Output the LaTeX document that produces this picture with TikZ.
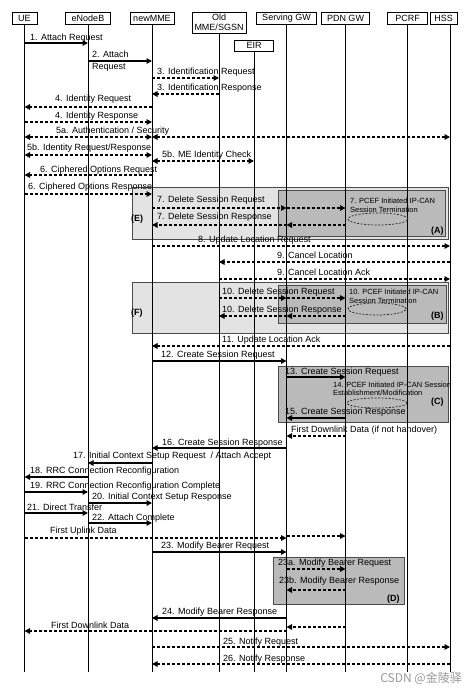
\documentclass[tikz,border=0pt]{standalone}
\usepackage{fontspec}
\setmainfont{Liberation Sans}
\newfontfamily\cjk{Noto Sans CJK SC}
\usetikzlibrary{arrows.meta}

\tikzset{
  hdr/.style={draw,line width=0.7pt,minimum height=12pt,inner sep=1pt,font=\fontsize{9}{10}\selectfont},
  lbl/.style={anchor=base west,inner sep=0pt,font=\fontsize{9}{10}\selectfont},
  small/.style={anchor=base west,inner sep=0pt,font=\fontsize{7.5}{8.5}\selectfont},
  tag/.style={anchor=base west,inner sep=0pt,font=\bfseries\fontsize{9}{10}\selectfont},
  life/.style={line width=0.75pt},
  msg/.style={line width=1.3pt,-{Triangle[length=5.5pt,width=5.5pt]}},
  dmsg/.style={msg,dash pattern=on 3pt off 2pt},
  dboth/.style={dmsg,{Triangle[length=5.5pt,width=5.5pt]}-{Triangle[length=5.5pt,width=5.5pt]}},
  light/.style={fill=black!11,draw=black!70,line width=0.8pt},
  dark/.style={fill=black!27,draw=black!70,line width=0.8pt},
  pcefcloud/.style={dash pattern=on 2pt off 1.5pt,line width=0.7pt,draw=black!85}
}

\begin{document}
\begin{tikzpicture}[x=1pt,y=-1pt]
\fill[white] (0,0) rectangle (474,690);
\useasboundingbox (0,0) rectangle (474,690);

% shaded areas
\draw[light] (132,187) rectangle (448,239);
\draw[dark] (278,190) rectangle (445,236);
\draw[light] (132,282) rectangle (448,333);
\draw[dark] (278,285) rectangle (446,323);
\draw[dark] (278,366) rectangle (448,422);
\draw[dark] (273,557) rectangle (404,604);

% heads
\node[hdr,minimum width=25pt] (ue) at (24.5,18) {UE};
\node[hdr,minimum width=45pt] (enb) at (88,18) {eNodeB};
\node[hdr,minimum width=44pt] (mme) at (152,18) {newMME};
\node[hdr,minimum width=54pt,minimum height=21pt,align=center] (old) at (219,22.5) {Old\\MME/SGSN};
\node[hdr,minimum width=39pt,minimum height=11pt] (eir) at (254,45.5) {EIR};
\node[hdr,minimum width=60pt] (sgw) at (286.5,18) {Serving GW};
\node[hdr,minimum width=48pt] (pgw) at (345.5,18) {PDN GW};
\node[hdr,minimum width=40pt] (pcrf) at (407.5,18) {PCRF};
\node[hdr,minimum width=27pt] (hss) at (443.5,18) {HSS};
\coordinate (hssl) at (450,24);

% life lines
\draw[life] (ue.south) -- (ue.south |- 0,672);
\draw[life] (enb.south) -- (enb.south |- 0,672);
\draw[life] (mme.south) -- (mme.south |- 0,672);
\draw[life] (old.south) -- (old.south |- 0,672);
\draw[life] (eir.south) -- (eir.south |- 0,672);
\draw[life] (sgw.south) -- (sgw.south |- 0,672);
\draw[life] (pgw.south) -- (pgw.south |- 0,672);
\draw[life] (pcrf.south) -- (pcrf.south |- 0,672);
\draw[life] (hssl) -- (hssl |- 0,672);

% 1-2
\draw[msg] (ue |- 0,43) -- (enb |- 0,43);
\node[lbl] (m1) at (30,41) {1. Attach Request};
\draw[msg] (enb |- 0,61) -- (mme |- 0,61);
\node[lbl] (m2a) at (92,58) {2. Attach};
\node[lbl] (m2b) at (92,70) {Request};

% 3-4
\draw[dmsg] (mme |- 0,78) -- (old |- 0,78);
\node[lbl] (m3a) at (157,75) {3. Identification Request};
\draw[dmsg] (old |- 0,94) -- (mme |- 0,94);
\node[lbl] (m3b) at (157,91) {3. Identification Response};
\draw[dmsg] (mme |- 0,107) -- (ue |- 0,107);
\node[lbl] (m4a) at (55,102) {4. Identity Request};
\draw[dmsg] (ue |- 0,122) -- (mme |- 0,122);
\node[lbl] (m4b) at (55,118) {4. Identity Response};

% 5
\draw[dboth] (ue |- 0,137) -- (mme |- 0,137);
\draw[dboth] (mme |- 0,137) -- (hssl |- 0,137);
\node[lbl] (m5a) at (56,133) {5a. Authentication / Security};
\draw[dboth] (ue |- 0,155) -- (mme |- 0,155);
\node[lbl] (m5b) at (27,150) {5b. Identity Request/Response};
\draw[dboth] (mme |- 0,161) -- (eir |- 0,161);
\node[lbl] (m5c) at (162,157) {5b. ME Identity Check};

% 6
\draw[dmsg] (mme |- 0,175) -- (ue |- 0,175);
\node[lbl] (m6a) at (40,172) {6. Ciphered Options Request};
\draw[dmsg] (ue |- 0,194) -- (mme |- 0,194);
\node[lbl] (m6b) at (28,189) {6. Ciphered Options Response};

% 7 (E) (A)
\draw[dmsg] (mme |- 0,208) -- (sgw |- 0,208);
\draw[dmsg] (sgw |- 0,208) -- (pgw |- 0,208);
\node[lbl] (m7a) at (157,202) {7. Delete Session Request};
\node[small] (m7p) at (350,203) {7. PCEF Initiated IP-CAN};
\node[small] (m7q) at (350,212) {Session Termination};
\draw[pcefcloud] (378,219) ellipse [x radius=30pt, y radius=6pt];
\draw[dmsg] (pgw |- 0,225) -- (sgw |- 0,225);
\draw[dmsg] (sgw |- 0,225) -- (mme |- 0,225);
\node[lbl] (m7b) at (157,219) {7. Delete Session Response};
\node[tag] (ta) at (431,233) {(A)};
\node[tag] (te) at (131,221) {(E)};

% 8-9
\draw[dmsg] (mme |- 0,246) -- (hssl |- 0,246);
\node[lbl] (m8) at (198,242) {8. Update Location Request};
\draw[dmsg] (hssl |- 0,262) -- (old |- 0,262);
\node[lbl] (m9a) at (277,258) {9. Cancel Location};
\draw[dmsg] (old |- 0,279) -- (hssl |- 0,279);
\node[lbl] (m9b) at (277,275) {9. Cancel Location Ack};

% 10 (F) (B)
\draw[dmsg] (old |- 0,298) -- (sgw |- 0,298);
\draw[dmsg] (sgw |- 0,298) -- (pgw |- 0,298);
\node[lbl] (m10a) at (222,294) {10. Delete Session Request};
\node[small] (m10p) at (349,294) {10. PCEF Initiated IP-CAN};
\node[small] (m10q) at (349,303) {Session Termination};
\draw[pcefcloud] (377,309) ellipse [x radius=29pt, y radius=6pt];
\draw[dmsg] (pgw |- 0,316) -- (sgw |- 0,316);
\draw[dmsg] (sgw |- 0,316) -- (old |- 0,316);
\node[lbl] (m10b) at (222,312) {10. Delete Session Response};
\node[tag] (tb) at (431,318) {(B)};
\node[tag] (tf) at (131,315) {(F)};

% 11-12
\draw[dmsg] (hssl |- 0,346) -- (mme |- 0,346);
\node[lbl] (m11) at (222,342) {11. Update Location Ack};
\draw[msg] (mme |- 0,361) -- (sgw |- 0,361);
\node[lbl] (m12) at (161,357) {12. Create Session Request};

% 13-15 (C)
\draw[msg] (sgw |- 0,377) -- (pgw |- 0,377);
\node[lbl] (m13) at (285,374) {13. Create Session Request};
\node[small] (m14a) at (333,387) {14. PCEF Initiated IP-CAN Session};
\node[small] (m14b) at (333,395) {Establishment/Modification};
\draw[pcefcloud] (377,403) ellipse [x radius=30pt, y radius=5pt];
\node[tag] (tc) at (431,404) {(C)};
\draw[msg] (pgw |- 0,418) -- (sgw |- 0,418);
\node[lbl] (m15) at (285,414) {15. Create Session Response};
\draw[dmsg] (pgw |- 0,436) -- (sgw |- 0,436);
\node[lbl] (m15d) at (291,432) {First Downlink Data (if not handover)};

% 16-22
\draw[msg] (sgw |- 0,448) -- (mme |- 0,448);
\node[lbl] (m16) at (162,445) {16. Create Session Response};
\draw[msg] (mme |- 0,463) -- (enb |- 0,463);
\node[lbl] (m17) at (73,458) {17. Initial Context Setup Request \ / Attach Accept};
\draw[msg] (enb |- 0,477) -- (ue |- 0,477);
\node[lbl] (m18) at (30,473) {18. RRC Connection Reconfiguration};
\draw[msg] (ue |- 0,492) -- (enb |- 0,492);
\node[lbl] (m19) at (30,488) {19. RRC Connection Reconfiguration Complete};
\draw[msg] (enb |- 0,503) -- (mme |- 0,503);
\node[lbl] (m20) at (92,499) {20. Initial Context Setup Response};
\draw[msg] (ue |- 0,513) -- (enb |- 0,513);
\node[lbl] (m21) at (27,510) {21. Direct Transfer};
\draw[msg] (enb |- 0,523) -- (mme |- 0,523);
\node[lbl] (m22) at (92,520) {22. Attach Complete};

% uplink data
\draw[dmsg] (ue |- 0,538) -- (sgw |- 0,538);
\draw[dmsg] (sgw |- 0,536) -- (pgw |- 0,536);
\node[lbl] (mul) at (50,533) {First Uplink Data};

% 23-24 (D)
\draw[msg] (mme |- 0,552) -- (sgw |- 0,552);
\node[lbl] (m23) at (161,548) {23. Modify Bearer Request};
\draw[dmsg] (sgw |- 0,569) -- (pgw |- 0,569);
\node[lbl] (m23a) at (278,565) {23a. Modify Bearer Request};
\draw[dmsg] (pgw |- 0,590) -- (sgw |- 0,590);
\node[lbl] (m23b) at (279,583) {23b. Modify Bearer Response};
\node[tag] (td) at (387,601) {(D)};
\draw[msg] (sgw |- 0,618) -- (mme |- 0,618);
\node[lbl] (m24) at (162,614) {24. Modify Bearer Response};

% downlink data
\draw[dmsg] (pgw |- 0,627) -- (sgw |- 0,627);
\draw[dmsg] (sgw |- 0,631) -- (ue |- 0,631);
\node[lbl] (mdl) at (51,628) {First Downlink Data};

% 25-26
\draw[dmsg] (mme |- 0,647) -- (hssl |- 0,647);
\node[lbl] (m25) at (223,644) {25. Notify Request};
\draw[dmsg] (hssl |- 0,664) -- (mme |- 0,664);
\node[lbl] (m26) at (223,661) {26. Notify Response};

\node[anchor=base east,inner sep=0pt,text=black!40,font=\cjk\fontsize{12}{14}\selectfont] (wm) at (462,682) {CSDN @金陵驿};
\end{tikzpicture}
\end{document}
